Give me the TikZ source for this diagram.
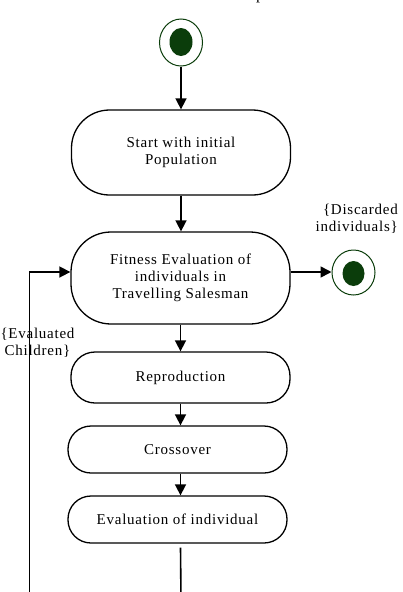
\documentclass[tikz,border=0pt]{standalone}
\usepackage{fontspec}
\setmainfont{Liberation Serif}[LetterSpace=5]
\usetikzlibrary{arrows.meta,shapes.geometric}
\definecolor{dgreen}{HTML}{0B3D0B}
\begin{document}
\begin{tikzpicture}[x=1pt,y=-1pt,
  act/.style={draw, line width=1.3pt, align=center, inner sep=0pt,
    minimum width=219pt, font=\fontsize{15}{17}\selectfont},
  lbl/.style={inner sep=0pt, font=\fontsize{15}{17}\selectfont},
  flow/.style={line width=1.6pt, -{Triangle[length=11pt,width=11pt]}},
  plain/.style={line width=1.6pt},
  outerc/.style={ellipse, draw=dgreen, line width=1pt, fill=white, inner sep=0pt},
  innerc/.style={ellipse, fill=dgreen, inner sep=0pt}]
\useasboundingbox (0,0) rectangle (402,592);
\clip (0,0) rectangle (402,592);
% fragment of text at top
\node[lbl, anchor=base, font=\fontsize{16}{18}\selectfont] (frag) at (260,-0.5) {p};
% start node
\node[outerc, minimum width=43pt, minimum height=47pt] (start) at (181,42.5) {};
\node[innerc, minimum width=23pt, minimum height=28pt] (starti) at (181,42) {};
% activities
\node[act, rounded corners=38pt, minimum height=85pt] (b1) at (181,152.5) {Start with initial\\Population};
\node[act, rounded corners=40pt, minimum height=92pt] (b2) at (180.5,278) {Fitness Evaluation of\\individuals in\\Travelling Salesman};
\node[act, rounded corners=24pt, minimum height=51pt] (b3) at (180.5,377.5) {Reproduction};
\node[act, rounded corners=23pt, minimum height=47pt] (b4) at (177.5,449.5) {Crossover};
\node[act, rounded corners=23pt, minimum height=47pt] (b5) at (177.5,519.5) {Evaluation of individual};
% final node
\node[outerc, minimum width=43pt, minimum height=45pt] (fin) at (353.5,272.5) {};
\node[innerc, minimum width=22pt, minimum height=25pt] (fini) at (353.5,273.5) {};
% labels
\node[lbl, anchor=east, align=right] (disc) at (398,219) {\{Discarded\\individuals\}};
\node[lbl, align=center] (evch) at (37.5,343) {\{Evaluated\\Children\}};
% connectors
\coordinate (b2r) at ([yshift=6pt]b2.east);
\coordinate (b2l) at ([yshift=6pt]b2.west);
\coordinate (b5b) at ([yshift=-4pt]b3.south |- b5.south);
\coordinate (loopa) at (181,600);
\coordinate (loopb) at (29.5,600);
\draw[flow] (start.south) -- (b1.north);
\draw[flow] (b1.south) -- (b1.south |- b2.north);
\draw[flow] (b2r) -- (b2r -| fin.west);
\draw[flow] (b2.south) -- (b2.south |- b3.north);
\draw[flow] (b3.south) -- (b3.south |- b4.north);
\draw[flow] (b3.south |- b4.south) -- (b3.south |- b5.north);
\draw[plain] (b5b) -- (loopa) -- (loopb);
\draw[flow] (loopb) |- (b2l);
\end{tikzpicture}
\end{document}
